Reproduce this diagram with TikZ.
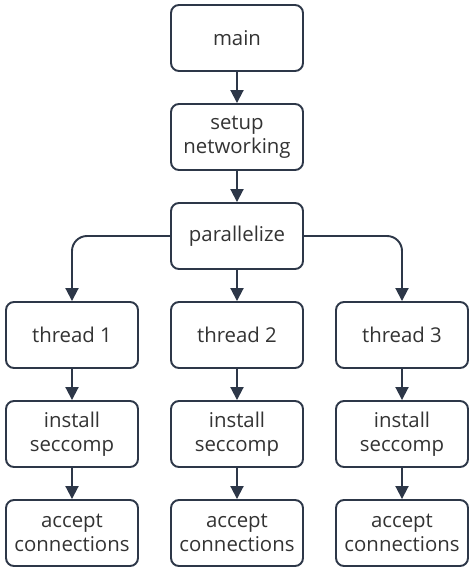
\documentclass[tikz,border=0pt]{standalone}
\usepackage{fontspec}
\setmainfont{Open Sans}
\usetikzlibrary{arrows.meta}

\definecolor{linegray}{HTML}{2D3748}
\definecolor{textgray}{HTML}{333333}

\begin{document}
\begin{tikzpicture}[x=0.02cm,y=-0.02cm,
    box/.style={draw=linegray,line width=1.1pt,rounded corners=0.16cm,
      minimum width=2.64cm,minimum height=1.32cm,align=center,
      text=textgray,font=\fontsize{11.6}{13.8}\selectfont},
    flow/.style={draw=linegray,line width=1.1pt,rounded corners=0.3cm,
      -{Triangle[length=0.26cm,width=0.26cm]}}]
  \useasboundingbox (0,0) rectangle (474,571);
  \node[box] (main) at (237,38) {main};
  \node[box] (setup) at (237,137) {setup\\networking};
  \node[box] (par) at (237,236) {parallelize};
  \foreach \i/\x in {1/72,2/237,3/402} {
    \node[box] (thr\i) at (\x,335) {thread \i};
    \node[box] (sec\i) at (\x,434) {install\\seccomp};
    \node[box] (acc\i) at (\x,533) {accept\\connections};
    \draw[flow] (thr\i) -- (sec\i);
    \draw[flow] (sec\i) -- (acc\i);
  }
  \draw[flow] (main) -- (setup);
  \draw[flow] (setup) -- (par);
  \draw[flow] (par) -- (thr2);
  \draw[flow] (par.west) -| (thr1.north);
  \draw[flow] (par.east) -| (thr3.north);
\end{tikzpicture}
\end{document}
